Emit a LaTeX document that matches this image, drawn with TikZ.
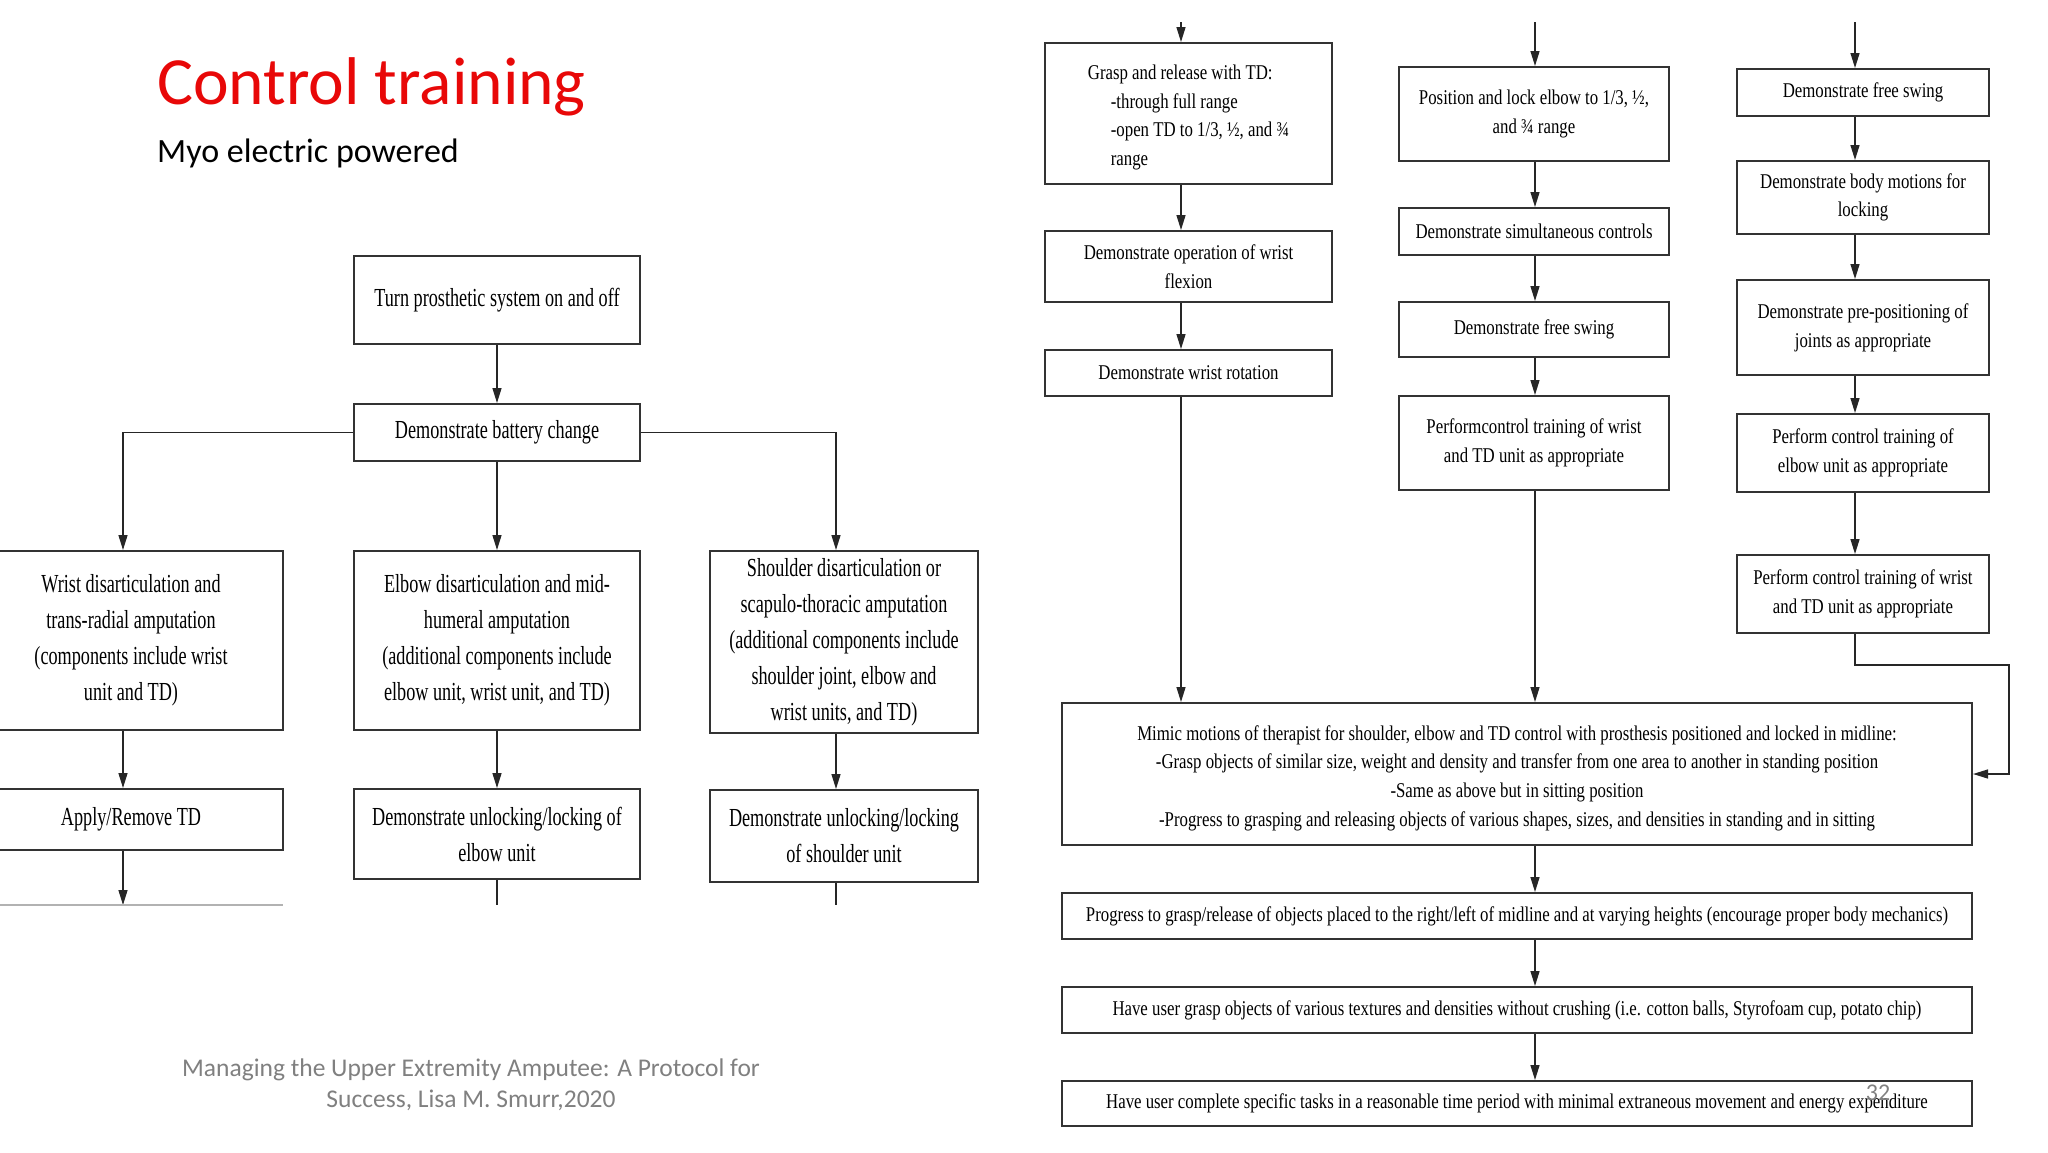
\documentclass[tikz,border=0pt]{standalone}
\usepackage{fontspec}
\setmainfont{Liberation Serif}
\newfontfamily\cali{Carlito}
\newfontfamily\lser[FakeStretch=0.7]{Liberation Serif}
\newfontfamily\rser[FakeStretch=0.8]{Liberation Serif}
\usetikzlibrary{arrows.meta}
\definecolor{titlered}{RGB}{232,8,8}
\begin{document}
\begin{tikzpicture}[x=1pt,y=-1pt,
  bx/.style={draw=black!80, line width=2pt, inner sep=0pt, align=center, fill=white},
  lbx/.style={bx, font=\lser\fontsize{26}{36}\selectfont},
  rbx/.style={bx, font=\rser\fontsize{21}{28.7}\selectfont},
  arr/.style={draw=black!85, line width=1.4pt, -{Triangle[length=15pt,width=9pt]}},
  ln/.style={draw=black!85, line width=1.4pt}]
\useasboundingbox (0,0) rectangle (2048,1152);
\clip (0,0) rectangle (2048,1152);
\fill[white] (0,0) rectangle (2048,1152);

% titles
\node[anchor=base west, inner sep=0pt, text=titlered, font=\cali\fontsize{67.5}{72}\selectfont] (title) at (157,104) {Control training};
\node[anchor=base west, inner sep=0pt, font=\cali\fontsize{34}{40}\selectfont] (sub) at (157,162) {Myo electric powered};
\node[anchor=base, inner sep=0pt, text=black!50, font=\cali\fontsize{25.5}{31}\selectfont] (foot1) at (471,1076) {Managing the Upper Extremity Amputee: A Protocol for};
\node[anchor=base, inner sep=0pt, text=black!50, font=\cali\fontsize{25.5}{31}\selectfont] (foot2) at (471,1107) {Success, Lisa M. Smurr,2020};

% ---------------- left chart ----------------
\node[lbx, minimum width=286pt, minimum height=88pt] (L1) at (497,300) {Turn prosthetic system on and off};
\node[lbx, minimum width=286pt, minimum height=57pt] (L2) at (497,432.5) {Demonstrate battery change};
\node[lbx, minimum width=304pt, minimum height=179pt] (L3) at (131,640.5) {Wrist disarticulation and\\trans-radial amputation\\(components include wrist\\unit and TD)};
\node[lbx, minimum width=286pt, minimum height=179pt] (L4) at (497,640.5) {Elbow disarticulation and mid-\\humeral amputation\\(additional components include\\elbow unit, wrist unit, and TD)};
\node[lbx, minimum width=268pt, minimum height=182pt] (L5) at (844,642) {Shoulder disarticulation or\\scapulo-thoracic amputation\\(additional components include\\shoulder joint, elbow and\\wrist units, and TD)};
\node[lbx, minimum width=304pt, minimum height=61pt] (L6) at (131,819.5) {Apply/Remove TD};
\node[lbx, minimum width=286pt, minimum height=90pt] (L7) at (497,834) {Demonstrate unlocking/locking of\\elbow unit};
\node[lbx, minimum width=268pt, minimum height=92pt] (L8) at (844,836) {Demonstrate unlocking/locking\\of shoulder unit};

\coordinate (xw) at (123,0);
\coordinate (xs) at (836,0);
\coordinate (cutW) at (123,905);
\coordinate (cutE) at (497,905);
\coordinate (cutS) at (836,905);
\coordinate (cutL) at (0,905);
\coordinate (cutR) at (283,905);

\draw[arr] (L1) -- (L2);
\draw[arr] (L2.west) -| (L3.north -| xw);
\draw[arr] (L2.east) -| (L5.north -| xs);
\draw[arr] (L2) -- (L4);
\draw[arr] (L3.south -| xw) -- (L6.north -| xw);
\draw[arr] (L4) -- (L7);
\draw[arr] (L5.south -| xs) -- (L8.north -| xs);
\draw[arr] (L6.south -| xw) -- (cutW);
\draw[ln] (L7) -- (cutE);
\draw[ln] (L8.south -| xs) -- (cutS);
\draw[black!30, line width=2pt] (cutL) -- (cutR);

% ---------------- right chart ----------------
\node[rbx, minimum width=287pt, minimum height=141pt, align=left] (A1) at (1188.5,113.5) {\rule{0pt}{0pt}\\[-6pt]Grasp and release with TD:\\\hspace*{23pt}-through full range\\\hspace*{23pt}-open TD to 1/3, ½, and ¾\\\hspace*{23pt}range};
\node[rbx, minimum width=287pt, minimum height=71pt] (A2) at (1188.5,266.5) {Demonstrate operation of wrist\\flexion};
\node[rbx, minimum width=287pt, minimum height=46pt] (A3) at (1188.5,373) {Demonstrate wrist rotation};

\node[rbx, minimum width=270pt, minimum height=94pt] (B1) at (1534,114) {Position and lock elbow to 1/3, ½,\\and ¾ range};
\node[rbx, minimum width=270pt, minimum height=47pt] (B2) at (1534,231.5) {Demonstrate simultaneous controls};
\node[rbx, minimum width=270pt, minimum height=55pt] (B3) at (1534,329.5) {Demonstrate free swing};
\node[rbx, minimum width=270pt, minimum height=94pt] (B4) at (1534,443) {Performcontrol training of wrist\\and TD unit as appropriate};

\node[rbx, minimum width=252pt, minimum height=47pt] (C1) at (1863,92.5) {Demonstrate free swing};
\node[rbx, minimum width=252pt, minimum height=73pt] (C2) at (1863,197.5) {Demonstrate body motions for\\locking};
\node[rbx, minimum width=252pt, minimum height=95pt] (C3) at (1863,327.5) {Demonstrate pre-positioning of\\joints as appropriate};
\node[rbx, minimum width=252pt, minimum height=78pt] (C4) at (1863,453) {Perform control training of\\elbow unit as appropriate};
\node[rbx, minimum width=252pt, minimum height=78pt] (C5) at (1863,594) {Perform control training of wrist\\and TD unit as appropriate};

\node[rbx, minimum width=910pt, minimum height=142pt] (M) at (1517,774) {\rule{0pt}{0pt}\\[-6pt]Mimic motions of therapist for shoulder, elbow and TD control with prosthesis positioned and locked in midline:\\-Grasp objects of similar size, weight and density and transfer from one area to another in standing position\\-Same as above but in sitting position\\-Progress to grasping and releasing objects of various shapes, sizes, and densities in standing and in sitting};
\node[rbx, minimum width=910pt, minimum height=46pt] (P) at (1517,916) {Progress to grasp/release of objects placed to the right/left of midline and at varying heights (encourage proper body mechanics)};
\node[rbx, minimum width=910pt, minimum height=46pt] (H) at (1517,1010) {Have user grasp objects of various textures and densities without crushing (i.e. cotton balls, Styrofoam cup, potato chip)};
\node[rbx, minimum width=910pt, minimum height=45pt] (U) at (1517,1103.5) {Have user complete specific tasks in a reasonable time period with minimal extraneous movement and energy expenditure};

\coordinate (tA) at (1181,22);
\coordinate (tB) at (1535,22);
\coordinate (tC) at (1855,22);
\coordinate (cR) at (2009,665);

\draw[arr] (tA) -- (A1.north -| tA);
\draw[arr] (A1.south -| tA) -- (A2.north -| tA);
\draw[arr] (A2.south -| tA) -- (A3.north -| tA);
\draw[arr] (A3.south -| tA) -- (M.north -| tA);

\draw[arr] (tB) -- (B1.north -| tB);
\draw[arr] (B1.south -| tB) -- (B2.north -| tB);
\draw[arr] (B2.south -| tB) -- (B3.north -| tB);
\draw[arr] (B3.south -| tB) -- (B4.north -| tB);
\draw[arr] (B4.south -| tB) -- (M.north -| tB);

\draw[arr] (tC) -- (C1.north -| tC);
\draw[arr] (C1.south -| tC) -- (C2.north -| tC);
\draw[arr] (C2.south -| tC) -- (C3.north -| tC);
\draw[arr] (C3.south -| tC) -- (C4.north -| tC);
\draw[arr] (C4.south -| tC) -- (C5.north -| tC);
\draw[arr] (C5.south -| tC) |- (cR) |- (M.east);

\draw[arr] (M.south -| tB) -- (P.north -| tB);
\draw[arr] (P.south -| tB) -- (H.north -| tB);
\draw[arr] (H.south -| tB) -- (U.north -| tB);

\node[anchor=base, inner sep=0pt, text=black!50, font=\cali\fontsize{24}{30}\selectfont] (num) at (1878,1100) {32};
\end{tikzpicture}
\end{document}
